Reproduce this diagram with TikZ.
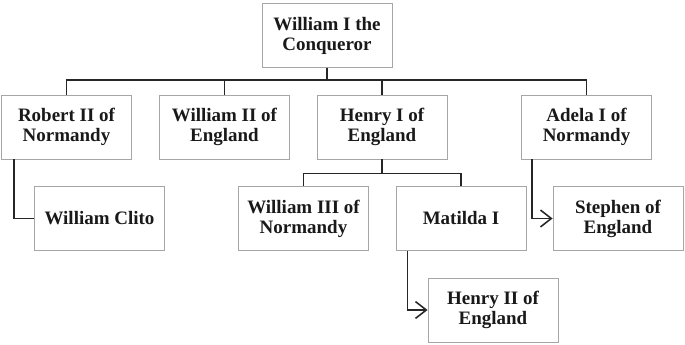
\documentclass[tikz,border=0pt]{standalone}
\usepackage{fontspec}
\setmainfont{Liberation Serif}
\usetikzlibrary{arrows.meta}
\begin{document}
\begin{tikzpicture}[
            person/.style={draw=gray!70, line width=0.6pt, fill=white, minimum width=3.25cm,
                    minimum height=1.6cm, inner sep=0pt, align=center,
                    font=\fontsize{13.5}{14.2}\selectfont\bfseries, text=black!90},
            link/.style={line width=1.1pt, draw=black!85},
            arrow/.style={link, -{Straight Barb[length=0.27cm, width=0.42cm]}}
        ]
        \useasboundingbox (0,0) rectangle (17.125,8.6);
        \node[person] (root) at (8.175,7.7125) {William I the\\Conqueror};
        \node[person] (robert) at (1.6625,5.425) {Robert II of\\Normandy};
        \node[person] (wil2) at (5.6125,5.425) {William II of\\England};
        \node[person] (henry1) at (9.55,5.425) {Henry I of\\England};
        \node[person] (adela) at (14.6625,5.425) {Adela I of\\Normandy};
        \node[person] (clito) at (2.4875,3.1375) {William Clito};
        \node[person] (wil3) at (7.5875,3.1375) {William III of\\Normandy};
        \node[person] (matilda) at (11.525,3.1375) {Matilda I};
        \node[person] (stephen) at (15.45,3.1375) {Stephen of\\England};
        \node[person] (henry2) at (12.325,0.85) {Henry II of\\England};

        \foreach \kid in {robert,wil2,henry1,adela}
            \draw[link] (root.south) -- ++(0,-0.3) -| (\kid.north);
        \foreach \kid in {wil3,matilda}
            \draw[link] (henry1.south) -- ++(0,-0.35) -| (\kid.north);
        \draw[link] ([xshift=0.325cm]robert.south west) |- (clito.west);
        \draw[arrow] ([xshift=0.275cm]adela.south west) |- (stephen.west);
        \draw[arrow] ([xshift=0.3cm]matilda.south west) |- (henry2.west);
    \end{tikzpicture}
\end{document}
